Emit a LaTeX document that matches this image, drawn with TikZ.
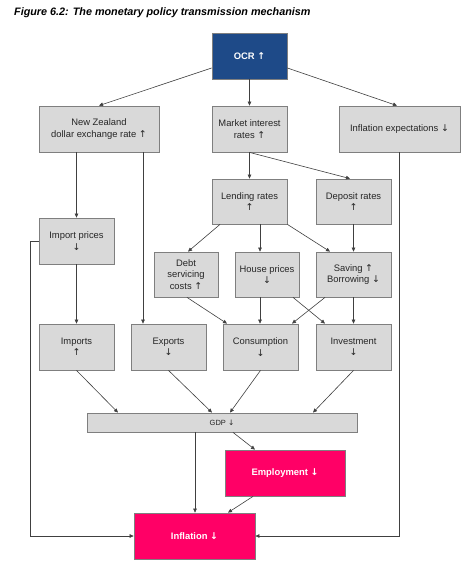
\documentclass[tikz,border=0pt]{standalone}
\usepackage{fontspec}
\setmainfont{Liberation Sans}
\newfontfamily\arrfont{DejaVu Sans}
\newcommand{\arrUp}{{\arrfont ↑}}
\newcommand{\arrDn}{{\arrfont ↓}}
\usetikzlibrary{arrows.meta}
\definecolor{boxgray}{HTML}{D9D9D9}
\definecolor{edgegray}{HTML}{7F7F7F}
\definecolor{linegray}{HTML}{404040}
\definecolor{ocrblue}{HTML}{1E4A88}
\definecolor{hotpink}{HTML}{FF0066}
\begin{document}
\begin{tikzpicture}[x=1pt,y=-1pt,
  gbox/.style={draw=edgegray,line width=0.8pt,fill=boxgray,align=center,inner sep=1pt,
    font=\fontsize{9.4}{11.5}\selectfont,text=black!85},
  hbox/.style={draw=edgegray,line width=0.8pt,fill=hotpink,align=center,inner sep=1pt,
    font=\bfseries\fontsize{9.4}{11.5}\selectfont,text=white},
  arr/.style={draw=linegray,line width=0.6pt,-{Triangle[length=4pt,width=3.6pt]}},
  ln/.style={draw=linegray,line width=0.6pt}]
\useasboundingbox (0,0) rectangle (474,569);
\fill[white] (0,0) rectangle (474,569);
\node[anchor=west,font=\bfseries\itshape\fontsize{10.8}{12}\selectfont,inner sep=0pt] (title) at (14,13)
  {Figure 6.2: The monetary policy transmission mechanism};
% nodes
\node[draw=edgegray,line width=0.8pt,fill=ocrblue,text=white,font=\bfseries\fontsize{9.4}{11.5}\selectfont,
  minimum width=75pt,minimum height=46pt] (ocr) at (249.5,56) {OCR \arrUp};
\node[gbox,minimum width=120pt,minimum height=46pt] (nz) at (99,129) {New Zealand\\dollar exchange rate \arrUp};
\node[gbox,minimum width=75pt,minimum height=46pt] (market) at (249.5,129) {Market interest\\rates \arrUp};
\node[gbox,minimum width=121pt,minimum height=46pt] (inflexp) at (399.5,129) {Inflation expectations \arrDn};
\node[gbox,minimum width=75pt,minimum height=45pt] (lending) at (249.5,201.5) {Lending rates\\\arrUp};
\node[gbox,minimum width=75pt,minimum height=45pt] (deposit) at (353.5,201.5) {Deposit rates\\\arrUp};
\node[gbox,minimum width=75pt,minimum height=46pt] (importp) at (76.5,241) {Import prices\\\arrDn};
\node[gbox,minimum width=64pt,minimum height=45pt] (debt) at (186,274.5) {Debt\\servicing\\costs \arrUp};
\node[gbox,minimum width=64pt,minimum height=45pt] (house) at (267,274.5) {House prices\\\arrDn};
\node[gbox,minimum width=75pt,minimum height=45pt] (saving) at (353.5,274.5) {Saving \arrUp\\Borrowing \arrDn};
\node[gbox,minimum width=75pt,minimum height=46pt] (imports) at (76.5,347) {Imports\\\arrUp};
\node[gbox,minimum width=75pt,minimum height=46pt] (exports) at (168.5,347) {Exports\\\arrDn};
\node[gbox,minimum width=75pt,minimum height=46pt] (consumption) at (260.5,347) {Consumption\\\arrDn};
\node[gbox,minimum width=75pt,minimum height=46pt] (investment) at (353.5,347) {Investment\\\arrDn};
\node[gbox,minimum width=270pt,minimum height=19pt,font=\fontsize{7.5}{9}\selectfont] (gdp) at (222,422.5) {GDP \arrDn};
\node[hbox,minimum width=120pt,minimum height=46pt] (employment) at (285,473) {Employment \arrDn};
\node[hbox,minimum width=121pt,minimum height=46pt] (inflation) at (194.5,536) {Inflation \arrDn};
% connectors
\draw[arr] (ocr.west |- 0,68) -- (nz.north);
\draw[arr] (ocr.east |- 0,68) -- (inflexp.north -| 397,0);
\draw[arr] (ocr.south) -- (market.north);
\draw[arr] (importp.north |- nz.south) -- (importp.north);
\draw[arr] (nz.south -| 143,0) -- (exports.north -| 143,0);
\draw[arr] (market.south) -- (lending.north);
\draw[arr] (market.south) -- (deposit.north -| 350,0);
\draw[arr] (lending.south -| 220,0) -- (debt.north -| 188,0);
\draw[arr] (lending.south -| 260,0) -- (house.north -| 260,0);
\draw[arr] (lending.south east) -- (saving.north -| 330,0);
\draw[arr] (deposit.south) -- (saving.north);
\draw[arr] (importp.west) -- ++(-8,0) |- (inflation.west);
\draw[arr] (importp.south) -- (imports.north);
\draw[arr] (debt.south -| 187,0) -- (consumption.north -| 227,0);
\draw[arr] (house.south -| 260,0) -- (consumption.north -| 260,0);
\draw[arr] (saving.south -| 325,0) -- (consumption.north -| 292,0);
\draw[arr] (house.south -| 293,0) -- (investment.north -| 325,0);
\draw[arr] (saving.south) -- (investment.north);
\draw[arr] (imports.south) -- (gdp.north -| 118,0);
\draw[arr] (exports.south) -- (gdp.north -| 212,0);
\draw[arr] (consumption.south) -- (gdp.north -| 230,0);
\draw[arr] (investment.south) -- (gdp.north -| 313,0);
\draw[arr] (gdp.south -| 195,0) -- (inflation.north -| 195,0);
\draw[arr] (gdp.south -| 233,0) -- (employment.north -| 255,0);
\draw[arr] (employment.south -| 253,0) -- (inflation.north -| 228,0);
\draw[arr] (inflexp.south) |- (inflation.east);
\end{tikzpicture}
\end{document}
